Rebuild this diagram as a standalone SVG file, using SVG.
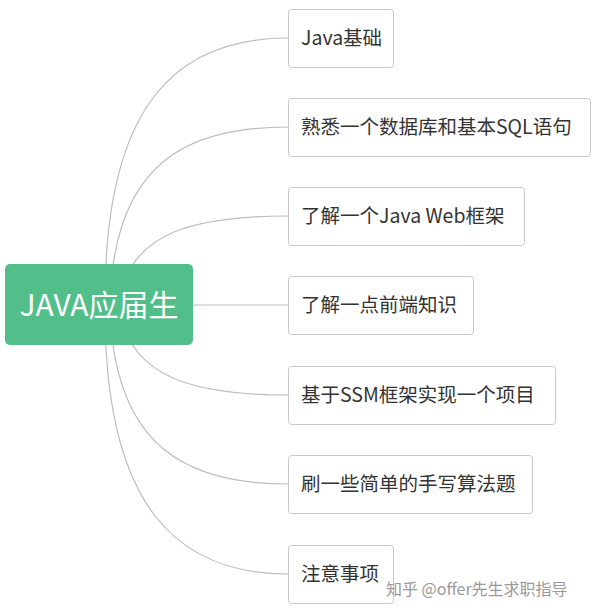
<svg xmlns="http://www.w3.org/2000/svg" width="600" height="614" viewBox="0 0 600 614">
<style>
.c{fill:none;stroke:#bdbdbd;stroke-width:1.2}
.b{fill:#fff;stroke:#c8c8c8;stroke-width:1}
.t{font-family:"Noto Sans CJK SC","Noto Sans",sans-serif;font-size:19.5px;fill:#333}
</style>
<rect width="600" height="614" fill="#fff"/>
<g id="connectors">
<path class="c" d="M105,300 C105,100 180,38 288,38"/>
<path class="c" d="M110,300 C115,160 190,127 288,127"/>
<path class="c" d="M120,300 C130,230 200,216 288,216"/>
<path class="c" d="M150,305 L288,305"/>
<path class="c" d="M120,310 C130,380 200,395 288,395"/>
<path class="c" d="M110,310 C115,450 190,484 288,484"/>
<path class="c" d="M105,310 C105,510 180,574 288,574"/>
</g>
<g id="root"><rect x="5" y="264" width="188" height="81" rx="5" fill="#52bf8a"/>
<text x="99" y="316" text-anchor="middle" font-family="Noto Sans CJK SC,sans-serif" font-size="30" fill="#fff">JAVA应届生</text></g>
<g id="n1"><rect class="b" x="288.5" y="9.5" width="105" height="58" rx="3"/><text class="t" x="301" y="45">Java基础</text></g>
<g id="n2"><rect class="b" x="288.5" y="98.5" width="302" height="58" rx="3"/><text class="t" x="301" y="134">熟悉一个数据库和基本SQL语句</text></g>
<g id="n3"><rect class="b" x="288.5" y="187.5" width="236" height="58" rx="3"/><text class="t" x="301" y="223">了解一个Java Web框架</text></g>
<g id="n4"><rect class="b" x="288.5" y="276.5" width="185" height="58" rx="3"/><text class="t" x="301" y="312">了解一点前端知识</text></g>
<g id="n5"><rect class="b" x="288.5" y="366.5" width="267" height="58" rx="3"/><text class="t" x="301" y="402">基于SSM框架实现一个项目</text></g>
<g id="n6"><rect class="b" x="288.5" y="455.5" width="244" height="58" rx="3"/><text class="t" x="301" y="491">刷一些简单的手写算法题</text></g>
<g id="n7"><rect class="b" x="288.5" y="545.5" width="105" height="58" rx="3"/><text class="t" x="301" y="581">注意事项</text></g>
<text x="386" y="595" font-family="Noto Sans CJK SC,sans-serif" font-size="16" fill="#9a9a9a">知乎 @offer先生求职指导</text>
</svg>
